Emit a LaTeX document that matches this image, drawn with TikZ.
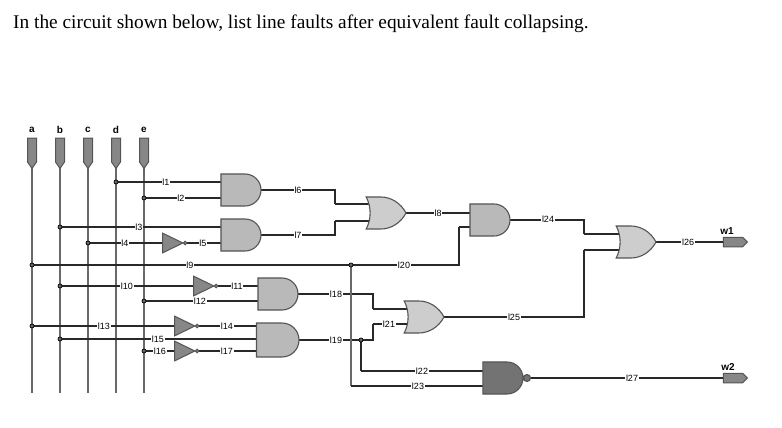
\documentclass[tikz,border=0pt]{standalone}
\usepackage{fontspec}
\usepackage{xcolor}
\usetikzlibrary{shapes.gates.logic.US,shapes.symbols,backgrounds}
\setmainfont{Liberation Serif}
\newfontfamily\wirefont{Liberation Sans}
\definecolor{wireDark}{RGB}{40, 40, 40}
\definecolor{busGray}{RGB}{105, 105, 105}
\definecolor{edgeGray}{RGB}{85, 85, 85}
\definecolor{pinGray}{RGB}{135, 135, 135}
\definecolor{andGray}{RGB}{185, 185, 185}
\definecolor{orGray}{RGB}{205, 205, 205}
\definecolor{nandGray}{RGB}{115, 115, 115}

\begin{document}
\begin{tikzpicture}[x=1pt, y=-1pt]
    \tikzstyle{wire} = [draw=wireDark, line width=1.2pt]
    \tikzstyle{bus} = [draw=busGray, line width=1.1pt]
    \tikzstyle{wlabel} = [fill=white, font=\wirefont\fontsize{9}{9}\selectfont, inner sep=0.8pt, text=black]
    \tikzstyle{plabel} = [font=\wirefont\bfseries\fontsize{10}{10}\selectfont, inner sep=0pt]
    \tikzstyle{dot} = [circle, draw=black, fill=busGray, line width=0.7pt, minimum size=4pt, inner sep=0pt]
    \tikzstyle{inpin} = [signal, signal to=south, signal from=nowhere, signal pointer angle=70, draw=edgeGray, fill=pinGray, line width=1pt, minimum width=9pt, minimum height=24pt, inner sep=0pt, outer sep=0pt]
    \tikzstyle{outpin} = [signal, signal to=east, signal from=nowhere, signal pointer angle=90, draw=edgeGray, fill=pinGray, line width=1pt, minimum width=24pt, minimum height=9.5pt, inner sep=0pt, outer sep=0pt]
    \tikzstyle{gate} = [draw=edgeGray, line width=1.1pt, inner sep=0pt, outer sep=0pt, anchor=output, logic gate inputs=nn, logic gate input sep=10.67pt]
    \tikzstyle{andg} = [gate, and gate US, fill=andGray]
    \tikzstyle{org} = [gate, or gate US, fill=orGray, transform shape, xscale=0.91]
    \tikzstyle{nandg} = [gate, nand gate US, fill=nandGray, logic gate inverted radius=3.5pt]
    \tikzstyle{inv} = [not gate US, draw=edgeGray, fill=pinGray, line width=1pt, inner sep=0pt, outer sep=0pt, anchor=output, minimum width=20pt, minimum height=17pt, logic gate inverted radius=1.8pt]

    \useasboundingbox (0,0) rectangle (782,428);

    % title
    \node[anchor=west, inner sep=0pt, font=\fontsize{19.35}{22}\selectfont] (title) at (13,24) {In the circuit shown below, list line faults after equivalent fault collapsing.};

    % inputs
    \node[inpin] (pina) at (32,150) {};
    \node[inpin] (pinb) at (60,150) {};
    \node[inpin] (pinc) at (88,150) {};
    \node[inpin] (pind) at (116,150) {};
    \node[inpin] (pine) at (144,150) {};
    \node[plabel] (laba) at (32,130) {a};
    \node[plabel] (labb) at (60,130) {b};
    \node[plabel] (labc) at (88,130) {c};
    \node[plabel] (labd) at (116,130) {d};
    \node[plabel] (labe) at (144,130) {e};
    \coordinate (enda) at (32,393);
    \coordinate (endb) at (60,393);
    \coordinate (endc) at (88,393);
    \coordinate (endd) at (116,393);
    \coordinate (ende) at (144,393);

    % gates
    \node[andg] (and1) at (261,190) {};
    \node[andg] (and2) at (261,235) {};
    \node[andg] (and3) at (298,294) {};
    \node[andg, logic gate input sep=11.33pt] (and4) at (299,340) {};
    \node[andg] (and5) at (510,220) {};
    \node[org] (or1) at (406,213) {};
    \node[org] (or2) at (444,317) {};
    \node[org] (or3) at (656,242) {};
    \node[nandg] (nand1) at (530.5,378) {};
    \node[inv] (inv1) at (187,243) {};
    \node[inv] (inv2) at (218,286) {};
    \node[inv] (inv3) at (199,326) {};
    \node[inv] (inv4) at (199,351) {};

    % outputs
    \node[outpin] (pinw1) at (733,242) {};
    \node[outpin] (pinw2) at (733,378) {};
    \node[plabel] (labw1) at (727,231) {w1};
    \node[plabel] (labw2) at (728,367) {w2};

    % branch points
    \node[dot] (dot1) at (116,182) {};
    \node[dot] (dot2) at (144,198) {};
    \node[dot] (dot3) at (60,227) {};
    \node[dot] (dot4) at (88,243) {};
    \node[dot] (dot9) at (32,265) {};
    \node[dot] (dot10) at (60,286) {};
    \node[dot] (dot12) at (144,301) {};
    \node[dot] (dot13) at (32,326) {};
    \node[dot] (dot15) at (60,339) {};
    \node[dot] (dot16) at (144,351) {};
    \node[dot] (dot20) at (351,265) {};
    \node[dot] (dot19) at (361,340) {};

    % bends
    \coordinate (or1a) at (335,204);
    \coordinate (or1b) at (335,221);
    \coordinate (or2a) at (373,309);
    \coordinate (or2b) at (373,324);
    \coordinate (or3a) at (584,234);
    \coordinate (or3b) at (584,250);
    \coordinate (and5b) at (459,227);
    \coordinate (nandA) at (361,371);
    \coordinate (nandB) at (351,386);

    % wires
    \begin{pgfonlayer}{background}
    \draw[bus] (pina.south) -- (enda);
    \draw[bus] (pinb.south) -- (endb);
    \draw[bus] (pinc.south) -- (endc);
    \draw[bus] (pind.south) -- (endd);
    \draw[bus] (pine.south) -- (ende);
    \draw[wire] (dot1) -- (dot1 -| and1.center);
    \draw[wire] (dot2) -- (dot2 -| and1.center);
    \draw[wire] (dot3) -- (dot3 -| and2.center);
    \draw[wire] (dot4) -- (inv1.center);
    \draw[wire] (inv1.output) -- (inv1.output -| and2.center);
    \draw[wire] (dot9) -- (dot20);
    \draw[wire] (dot20) -| (and5b);
    \draw[wire] (and5b) -- (and5b -| and5.center);
    \draw[wire] (dot10) -- (inv2.center);
    \draw[wire] (inv2.output) -- (inv2.output -| and3.center);
    \draw[wire] (dot12) -- (dot12 -| and3.center);
    \draw[wire] (dot13) -- (inv3.center);
    \draw[wire] (inv3.output) -- (inv3.output -| and4.center);
    \draw[wire] (dot15) -- (dot15 -| and4.center);
    \draw[wire] (dot16) -- (inv4.center);
    \draw[wire] (inv4.output) -- (inv4.output -| and4.center);
    \draw[wire] (and1.output) -| (or1a);
    \draw[wire] (or1a) -- (or1a -| or1.center);
    \draw[wire] (and2.output) -| (or1b);
    \draw[wire] (or1b) -- (or1b -| or1.center);
    \draw[wire] (or1.output) -- (or1.output -| and5.center);
    \draw[wire] (and5.output) -| (or3a);
    \draw[wire] (or3a) -- (or3a -| or3.center);
    \draw[wire] (or2.output) -| (or3b);
    \draw[wire] (or3b) -- (or3b -| or3.center);
    \draw[wire] (or3.output) -- (pinw1.west);
    \draw[wire] (and3.output) -| (or2a);
    \draw[wire] (or2a) -- (or2a -| or2.center);
    \draw[wire] (and4.output) -- (dot19);
    \draw[wire] (dot19) -| (or2b);
    \draw[wire] (or2b) -- (or2b -| or2.center);
    \draw[wire] (dot19) -- (nandA);
    \draw[wire] (nandA) -- (nandA -| nand1.center);
    \draw[bus] (dot20) -- (nandB);
    \draw[wire] (nandB) -- (nandB -| nand1.center);
    \draw[wire] (nand1.output) -- (pinw2.west);
    \end{pgfonlayer}

    % line labels
    \node[wlabel] (l1) at (166,182) {l1};
    \node[wlabel] (l2) at (181,198) {l2};
    \node[wlabel] (l3) at (139,227) {l3};
    \node[wlabel] (l4) at (125,243) {l4};
    \node[wlabel] (l5) at (203,243) {l5};
    \node[wlabel] (l6) at (298,190) {l6};
    \node[wlabel] (l7) at (298,235) {l7};
    \node[wlabel] (l8) at (438,213) {l8};
    \node[wlabel] (l9) at (190,265) {l9};
    \node[wlabel] (l10) at (127,286) {l10};
    \node[wlabel] (l11) at (237,286) {l11};
    \node[wlabel] (l12) at (200,301) {l12};
    \node[wlabel] (l13) at (104,326) {l13};
    \node[wlabel] (l14) at (227,326) {l14};
    \node[wlabel] (l15) at (158,339) {l15};
    \node[wlabel] (l16) at (160,351) {l16};
    \node[wlabel] (l17) at (227,351) {l17};
    \node[wlabel] (l18) at (336,294) {l18};
    \node[wlabel] (l19) at (336,340) {l19};
    \node[wlabel] (l20) at (404,265) {l20};
    \node[wlabel] (l21) at (389,324) {l21};
    \node[wlabel] (l22) at (422,371) {l22};
    \node[wlabel] (l23) at (418,386) {l23};
    \node[wlabel] (l24) at (548,219) {l24};
    \node[wlabel] (l25) at (514,317) {l25};
    \node[wlabel] (l26) at (688,242) {l26};
    \node[wlabel] (l27) at (632,378) {l27};
\end{tikzpicture}
\end{document}
